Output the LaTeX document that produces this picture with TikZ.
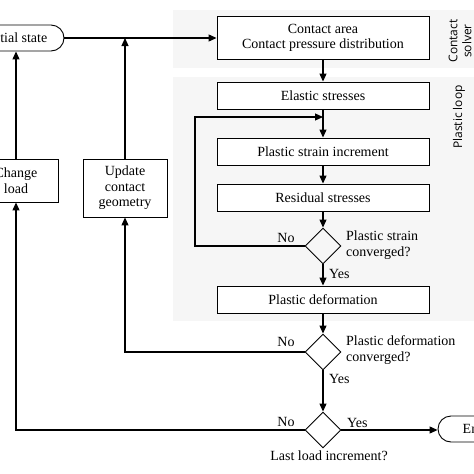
\documentclass[tikz,border=0pt]{standalone}
\usepackage{fontspec}
\setmainfont{Liberation Serif}
\setsansfont{Open Sans}
\usetikzlibrary{arrows.meta,shapes.geometric,shapes.misc}
\definecolor{panelgray}{RGB}{246,246,246}
\tikzset{
  proc/.style={draw, line width=0.9pt, fill=white, minimum width=212pt, minimum height=27pt, inner sep=0pt, align=center, font=\fontsize{14}{15}\selectfont},
  sidebox/.style={draw, line width=0.9pt, minimum width=84pt, inner sep=0pt, align=center, font=\fontsize{14}{15.5}\selectfont},
  term/.style={draw, rounded rectangle, line width=0.9pt, minimum height=26pt, inner sep=0pt, font=\fontsize{14}{15}\selectfont},
  decide/.style={draw, diamond, line width=0.9pt, minimum width=36pt, minimum height=36pt, inner sep=0pt},
  flow/.style={line width=1.1pt, -{Triangle[length=8pt,width=7pt]}},
  lbl/.style={font=\fontsize{14}{16}\selectfont, inner sep=0pt},
  panellbl/.style={rotate=90, align=center, font=\sffamily\fontsize{12}{14}\selectfont, inner sep=0pt}
}
\begin{document}
\begin{tikzpicture}[x=1pt,y=-1pt]
\useasboundingbox (0,0) rectangle (474,474);
% grey panels
\fill [panelgray] (173,10) rectangle (480,68);
\fill [panelgray] (173,77) rectangle (480,321);
\node [panellbl] (solverlbl) at (460,41) {Contact\\solver};
\node [panellbl] (looplbl) at (459,117) {Plastic loop};
% main column
\node [term, minimum width=96pt] (init) at (16,38) {Initial state};
\node [proc, minimum height=43pt] (contact) at (323,37.5) {Contact area\\Contact pressure distribution};
\node [proc] (elastic) at (323,95.5) {Elastic stresses};
\node [proc] (strain) at (323,151.5) {Plastic strain increment};
\node [proc] (resid) at (323,197.5) {Residual stresses};
\node [decide] (convA) at (323,246) {};
\node [proc] (plastdef) at (323,299.5) {Plastic deformation};
\node [decide] (convB) at (323,352) {};
\node [decide] (lastinc) at (323,430) {};
\node [term, minimum width=72pt] (finish) at (474,429) {End};
% side boxes
\node [sidebox, minimum height=43pt] (change) at (16,180.5) {Change\\load};
\node [sidebox, minimum height=58pt] (update) at (125,188) {Update\\contact\\geometry};
\coordinate (join) at (323,117);
% connectors
\draw [flow] (init.east) -- (init.east -| contact.west);
\draw [flow] (contact) -- (elastic);
\draw [flow] (elastic) -- (strain);
\draw [flow] (strain) -- (resid);
\draw [flow] (resid) -- (convA);
\draw [flow] (convA.west) -- (195,246) |- (join);
\draw [flow] (convA) -- (plastdef);
\draw [flow] (plastdef) -- (convB);
\draw [flow] (convB.west) -| (update.south);
\draw [flow] (convB) -- (lastinc);
\draw [flow] (lastinc.west) -| (change.south);
\draw [flow] (lastinc.east) -- (finish.west |- lastinc.east);
\draw [flow] (update.north) -- (update.north |- init.east);
\draw [flow] (change.north) -- (init.south);
% labels
\node [lbl] (noA) at (286,238) {No};
\node [lbl, anchor=west] (yesA) at (329,274) {Yes};
\node [lbl, anchor=west, align=left] (txtA) at (346,245) {Plastic strain\\converged?};
\node [lbl] (noB) at (286,342) {No};
\node [lbl, anchor=west] (yesB) at (329,379) {Yes};
\node [lbl, anchor=west, align=left] (txtB) at (346,350) {Plastic deformation\\converged?};
\node [lbl] (noC) at (286,422) {No};
\node [lbl, anchor=west] (yesC) at (347,423) {Yes};
\node [lbl] (txtC) at (329,456) {Last load increment?};
\end{tikzpicture}
\end{document}
